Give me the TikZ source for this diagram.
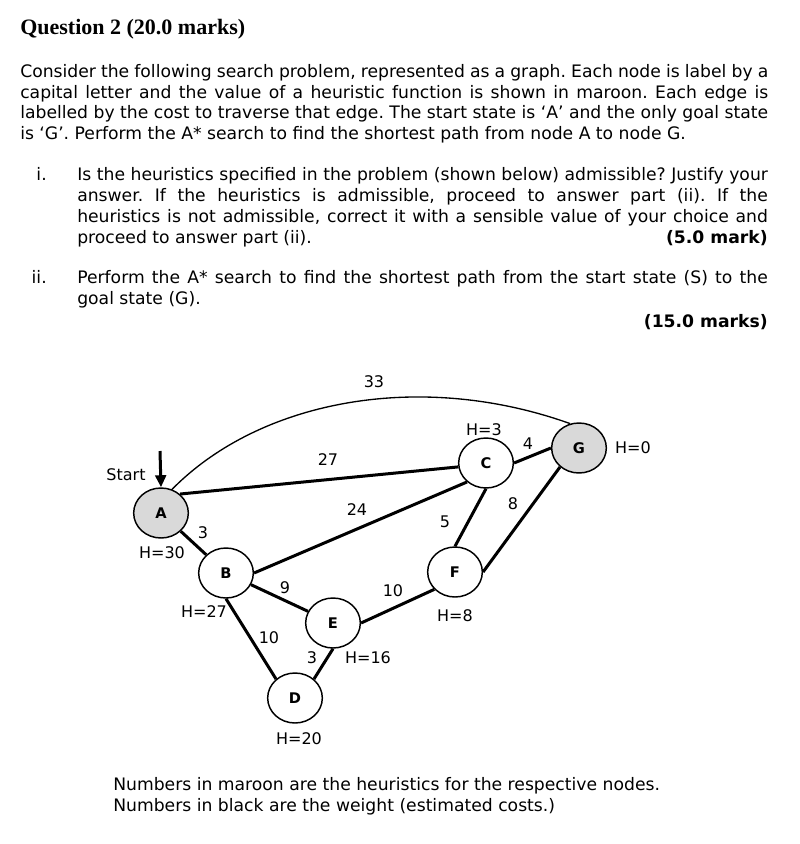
\documentclass[tikz,border=0pt]{standalone}
\usepackage{fontspec}
\setmainfont{DejaVu Sans}
\newfontfamily\headfont{Liberation Serif}
\usetikzlibrary{shapes.geometric,arrows.meta}
\definecolor{nodegray}{HTML}{D9D9D9}
\frenchspacing
\tikzset{
  gnode/.style={ellipse,draw=black,line width=1.1pt,fill=white,minimum width=41pt,minimum height=37.5pt,inner sep=0pt,font=\fontsize{11pt}{12pt}\selectfont\bfseries},
  shaded/.style={fill=nodegray},
  edge/.style={line width=2.25pt},
  thinedge/.style={line width=1pt},
  lbl/.style={inner sep=0pt,font=\fontsize{12pt}{14pt}\selectfont},
  txt/.style={inner sep=0pt,anchor=base west,font=\fontsize{12.9pt}{15pt}\selectfont},
  txtr/.style={inner sep=0pt,anchor=base east,font=\fontsize{12.9pt}{15pt}\selectfont\bfseries},
}
\newcommand{\jline}[2]{\makebox[#1][s]{#2}}
\begin{document}
\begin{tikzpicture}[x=0.75pt,y=-0.75pt]
\useasboundingbox[fill=white] (0,0) rectangle (800,844);

% title
\node[inner sep=0pt,anchor=base west,font=\headfont\fontsize{16.5pt}{18pt}\selectfont\bfseries] (title) at (20,34) {Question 2 (20.0 marks)};

% paragraph
\node[txt] (p1) at (20,77) {\jline{561pt}{Consider the following search problem, represented as a graph. Each node is label by a}};
\node[txt] (p2) at (20,98) {\jline{561pt}{capital letter and the value of a heuristic function is shown in maroon. Each edge is}};
\node[txt] (p3) at (20,118.5) {\jline{561pt}{labelled by the cost to traverse that edge. The start state is ‘A’ and the only goal state}};
\node[txt] (p4) at (20,139) {is ‘G’. Perform the A* search to find the shortest path from node A to node G.};

% item i
\node[txt,anchor=base east] (ni) at (47,180) {i.};
\node[txt] (i1) at (77,180) {\jline{518pt}{Is the heuristics specified in the problem (shown below) admissible? Justify your}};
\node[txt] (i2) at (77,201) {\jline{518pt}{answer. If the heuristics is admissible, proceed to answer part (ii). If the}};
\node[txt] (i3) at (77,222) {\jline{518pt}{heuristics is not admissible, correct it with a sensible value of your choice and}};
\node[txt] (i4) at (77,243) {proceed to answer part (ii).};
\node[txtr] (m1) at (768,243) {(5.0 mark)};

% item ii
\node[txt,anchor=base east] (nii) at (47,283) {ii.};
\node[txt] (ii1) at (77,283) {\jline{518pt}{Perform the A* search to find the shortest path from the start state (S) to the}};
\node[txt] (ii2) at (77,304) {goal state (G).};
\node[txtr] (m2) at (768,327) {(15.0 marks)};

% graph nodes
\node[gnode,shaded] (A) at (161,513) {A};
\node[gnode] (B) at (226,573) {B};
\node[gnode] (C) at (486,463) {C};
\node[gnode,shaded] (G) at (579,448) {G};
\node[gnode] (F) at (455,572) {F};
\node[gnode] (E) at (333,623) {E};
\node[gnode] (D) at (295,698) {D};

% edges
\draw[thinedge] (A.65) .. controls (260,400) and (420,370) .. (G.110);
\draw[edge] (A.45) -- (C.188);
\draw[edge] (A) -- (B);
\draw[edge] (B.east) -- (C.225);
\draw[edge] (B) -- (E);
\draw[edge] (B.south) -- (D.135);
\draw[edge] (E.south) -- (D.45);
\draw[edge] (E.east) -- (F.220);
\draw[edge] (C.south) -- (F.north);
\draw[edge] (C.east) -- (G.west);
\draw[edge] (F.east) -- (G.225);

% start arrow
\coordinate (st) at (160,451);
\draw[line width=2.25pt,-{Triangle[length=9pt,width=8pt]}] (st) -- (A.north);
\node[lbl] (start) at (126,475) {Start};

% edge weights
\node[lbl] (w33) at (374,382) {33};
\node[lbl] (w27) at (328,460) {27};
\node[lbl] (w24) at (357,510) {24};
\node[lbl] (w3a) at (203,533) {3};
\node[lbl] (w9) at (285,588) {9};
\node[lbl] (w10a) at (393,591) {10};
\node[lbl] (w10b) at (269,638) {10};
\node[lbl] (w3b) at (312,658) {3};
\node[lbl] (w5) at (445,522) {5};
\node[lbl] (w4) at (528,444) {4};
\node[lbl] (w8) at (513,504) {8};

% heuristics
\node[lbl] (hA) at (162,553) {H=30};
\node[lbl] (hB) at (204,612) {H=27};
\node[lbl] (hC) at (484,430) {H=3};
\node[lbl] (hG) at (633,448) {H=0};
\node[lbl] (hF) at (455,616) {H=8};
\node[lbl] (hE) at (368,658) {H=16};
\node[lbl] (hD) at (299,739) {H=20};

% notes
\node[txt] (n1) at (113,790) {Numbers in maroon are the heuristics for the respective nodes.};
\node[txt] (n2) at (113,811) {Numbers in black are the weight (estimated costs.)};
\end{tikzpicture}
\end{document}
